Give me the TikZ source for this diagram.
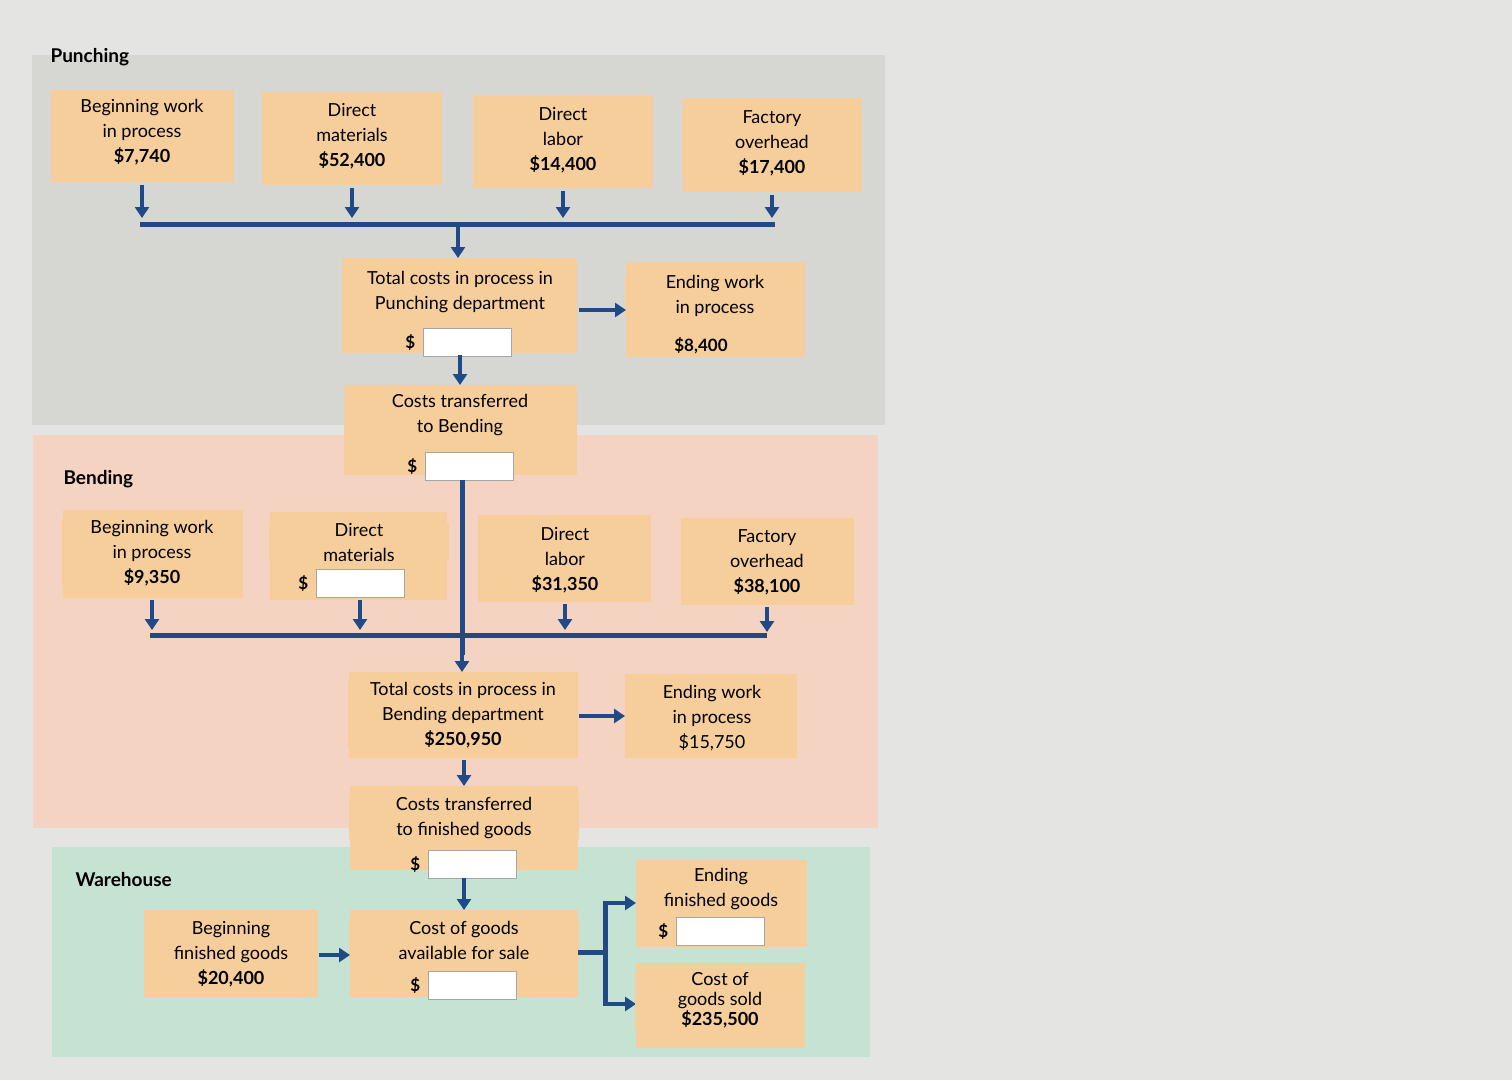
\documentclass[tikz,border=0pt]{standalone}
\usepackage{fontspec}
\setmainfont{Lato}
\usetikzlibrary{arrows.meta,positioning}
\definecolor{bg}{HTML}{E4E4E2}
\definecolor{pgray}{HTML}{D6D7D3}
\definecolor{ppink}{HTML}{F4D3C3}
\definecolor{pgreen}{HTML}{C6E2D3}
\definecolor{bx}{HTML}{F6CE9C}
\definecolor{nav}{HTML}{1F4A85}
\tikzset{
 box/.style={fill=bx,draw=none,minimum width=#1,align=center,font=\fontsize{18}{25}\selectfont,inner sep=0pt},
 inp/.style={fill=white,draw=gray!70,minimum width=88pt,minimum height=28pt,inner sep=0pt},
 arr/.style={draw=nav,line width=3.5pt,-{Triangle[width=14pt,length=11pt]}},
 bar/.style={draw=nav,line width=5pt},
 lbl/.style={font=\bfseries\fontsize{19}{22}\selectfont,anchor=west},
 dol/.style={font=\bfseries\fontsize{17}{20}\selectfont}
}
\begin{document}
\begin{tikzpicture}[x=1pt,y=-1pt]
\fill[bg] (0,0) rectangle (1512,1080);
\fill[pgray] (32,55) rectangle (885,425);
\fill[ppink] (33,435) rectangle (878,828);
\fill[pgreen] (52,847) rectangle (870,1057);
\node[lbl] (lp) at (47,57) {Punching};
\node[lbl] (lb) at (60,479) {Bending};
\node[lbl] (lw) at (72,880) {Warehouse};
% Punching
\fill[bx] (51,90) rectangle (234,182); \node[box=180pt] (p1) at (142,132) {Beginning work\\in process\\\bfseries \$7,740};
\fill[bx] (262,92) rectangle (442,185); \node[box=180pt] (p2) at (352,136) {Direct\\materials\\\bfseries \$52,400};
\fill[bx] (473,95) rectangle (653,188); \node[box=180pt] (p3) at (563,140) {Direct\\labor\\\bfseries \$14,400};
\fill[bx] (683,98) rectangle (862,192); \node[box=180pt] (p4) at (772,143) {Factory\\overhead\\\bfseries \$17,400};
\coordinate (pb1) at (142,218); \coordinate (pb2) at (352,218);\coordinate (pb3) at (563,218);\coordinate (pb4) at (772,218);
\draw[arr] (142,185) -- (pb1); \draw[arr] (352,188) -- (pb2); \draw[arr] (563,191) -- (pb3); \draw[arr] (772,195) -- (pb4);
\draw[bar] (140,224) -- (775,224);
\fill[bx] (342,258) rectangle (577,353);
\node[box=230pt] (pt) at (460,292) {Total costs in process in\\Punching department};
\node[inp] (pti) at (467,342) {}; \node[dol,left=4pt of pti] {\$};
\draw[arr] (458,226) -- (458,258);
\fill[bx] (626,262) rectangle (805,357);
\node[box=180pt] (pe) at (715,296) {Ending work\\in process}; \node[dol] at (701,346) {\$8,400};
\draw[arr] (579,310) -- (626,310);
\fill[bx] (344,385) rectangle (577,475);
\node[box=230pt] (pc) at (460,415) {Costs transferred\\to Bending};
\node[inp] (pci) at (469,466) {}; \node[dol,left=4pt of pci] {\$};
\draw[arr] (460,355) -- (460,385);
% Bending
\fill[bx] (63,510) rectangle (243,598); \node[box=180pt] (b1) at (152,553) {Beginning work\\in process\\\bfseries \$9,350};
\fill[bx] (270,512) rectangle (447,600); \node[box=180pt] (b2) at (359,542) {Direct\\materials};
\node[inp] (b2i) at (360,583) {}; \node[dol,left=4pt of b2i] {\$};
\fill[bx] (478,515) rectangle (651,602); \node[box=170pt] (b3) at (565,560) {Direct\\labor\\\bfseries \$31,350};
\fill[bx] (681,518) rectangle (854,605); \node[box=170pt] (b4) at (767,562) {Factory\\overhead\\\bfseries \$38,100};
\draw[arr] (152,600) -- (152,630); \draw[arr] (360,600) -- (360,630); \draw[arr] (565,604) -- (565,630); \draw[arr] (767,607) -- (767,632);
\draw[bar] (150,635) -- (767,635);
\draw[draw=nav,line width=5pt] (462,480) -- (462,655);
\draw[arr] (462,650) -- (462,672);
\fill[bx] (349,672) rectangle (578,758);
\node[box=230pt] (bt) at (463,715) {Total costs in process in\\Bending department\\\bfseries \$250,950};
\fill[bx] (625,674) rectangle (797,758);
\node[box=170pt] (be) at (712,718) {Ending work\\in process\\\$15,750};
\draw[arr] (579,716) -- (625,716);
\draw[arr] (464,760) -- (464,786);
\fill[bx] (350,786) rectangle (578,870);
\node[box=230pt] (bc) at (464,818) {Costs transferred\\to finished goods};
\node[inp] (bci) at (472,864) {}; \node[dol,left=4pt of bci] {\$};
% Warehouse
\draw[arr] (464,878) -- (464,910);
\fill[bx] (350,910) rectangle (578,997);
\node[box=230pt] (wc) at (464,940) {Cost of goods\\available for sale};
\node[inp] (wci) at (472,985) {}; \node[dol,left=4pt of wci] {\$};
\fill[bx] (144,910) rectangle (318,997);
\node[box=170pt] (wb) at (231,954) {Beginning\\finished goods\\\bfseries \$20,400};
\draw[arr] (319,955) -- (350,955);
\draw[bar] (578,952) -- (605,952);
\draw[bar] (605,901) -- (605,1005);
\draw[arr] (603,903) -- (636,903);
\draw[arr] (603,1004) -- (636,1004);
\fill[bx] (636,860) rectangle (807,947);
\node[box=170pt] (we) at (721,889) {Ending\\finished goods};
\node[inp] (wei) at (720,931) {}; \node[dol,left=4pt of wei] {\$};
\fill[bx] (636,963) rectangle (805,1048);
\node[box=170pt,font=\fontsize{18}{20}\selectfont] (wg) at (720,1000) {Cost of\\goods sold\\\bfseries \$235,500};
\end{tikzpicture}
\end{document}
